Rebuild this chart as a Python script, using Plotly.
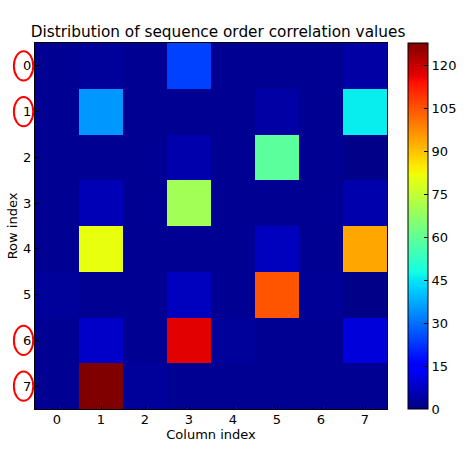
import plotly.graph_objects as go

rows = [0, 1, 2, 3, 4, 5, 6, 7]
cols = [0, 1, 2, 3, 4, 5, 6, 7]
values = [
    [2, 3, 2, 24, 2, 2, 2, 4],
    [2, 35, 2, 2, 2, 4, 2, 46],
    [2, 2, 2, 5, 2, 59, 2, 1],
    [2, 6, 2, 70, 2, 2, 2, 5],
    [2, 81, 2, 2, 2, 7, 2, 94],
    [3, 2, 2, 7, 2, 105, 2.5, 1],
    [2, 8, 2, 117, 3, 2, 2, 10],
    [2, 128, 3, 2, 2, 2, 2, 2],
]
cbar_ticks = [0, 15, 30, 45, 60, 75, 90, 105, 120]

jet = [
    [0.0, "rgb(0,0,128)"], [0.11, "rgb(0,0,255)"], [0.125, "rgb(0,0,255)"],
    [0.34, "rgb(0,219,255)"], [0.35, "rgb(0,228,247)"], [0.375, "rgb(20,255,226)"],
    [0.64, "rgb(238,255,8)"], [0.66, "rgb(255,236,0)"], [0.89, "rgb(255,18,0)"],
    [0.91, "rgb(232,0,0)"], [1.0, "rgb(128,0,0)"],
]

fig = go.Figure(go.Heatmap(
    z=values, x=cols, y=rows, colorscale=jet, zmin=0, zmax=128,
    colorbar=dict(
        x=1.06, xanchor="left", y=0, yanchor="bottom", len=1.0, lenmode="fraction",
        thickness=20, xpad=0, ypad=0, outlinewidth=1, outlinecolor="black",
        tickvals=cbar_ticks, ticks="inside", ticklen=4, tickcolor="black",
        tickfont=dict(family="DejaVu Sans", size=13, color="black"),
    ),
))

fig.update_layout(
    width=474, height=453,
    margin=dict(l=32, r=76, t=43, b=44),
    paper_bgcolor="white", plot_bgcolor="white",
    font=dict(family="DejaVu Sans", color="black"),
    title=dict(text="Distribution of sequence order correlation values",
               x=0.46, xanchor="center", y=0.93, yanchor="middle",
               font=dict(size=15.3, color="black")),
    xaxis=dict(title=dict(text="Column index", font=dict(size=13), standoff=2),
               tickvals=cols, ticks="inside", ticklen=4, tickcolor="black",
               tickfont=dict(size=13), showline=True, linecolor="black",
               linewidth=1, mirror=True, range=[-0.5, 7.5], showgrid=False, zeroline=False,
               ticklabelstandoff=-2),
    yaxis=dict(title=dict(text="Row index", font=dict(size=13), standoff=2),
               tickvals=rows, ticks="inside", ticklen=4, tickcolor="black",
               tickfont=dict(size=13), showline=True, linecolor="black",
               linewidth=1, mirror=True, range=[7.5, -0.5], showgrid=False, zeroline=False),
)

# hand-drawn red marks around row labels
red = dict(color="red", width=2)
for r in [0, 1, 6, 7]:
    fig.add_shape(type="circle", xref="paper", yref="y", x0=-0.06, x1=-0.005,
                  y0=r - 0.32, y1=r + 0.32, line=red)

fig.write_html("out.html")
